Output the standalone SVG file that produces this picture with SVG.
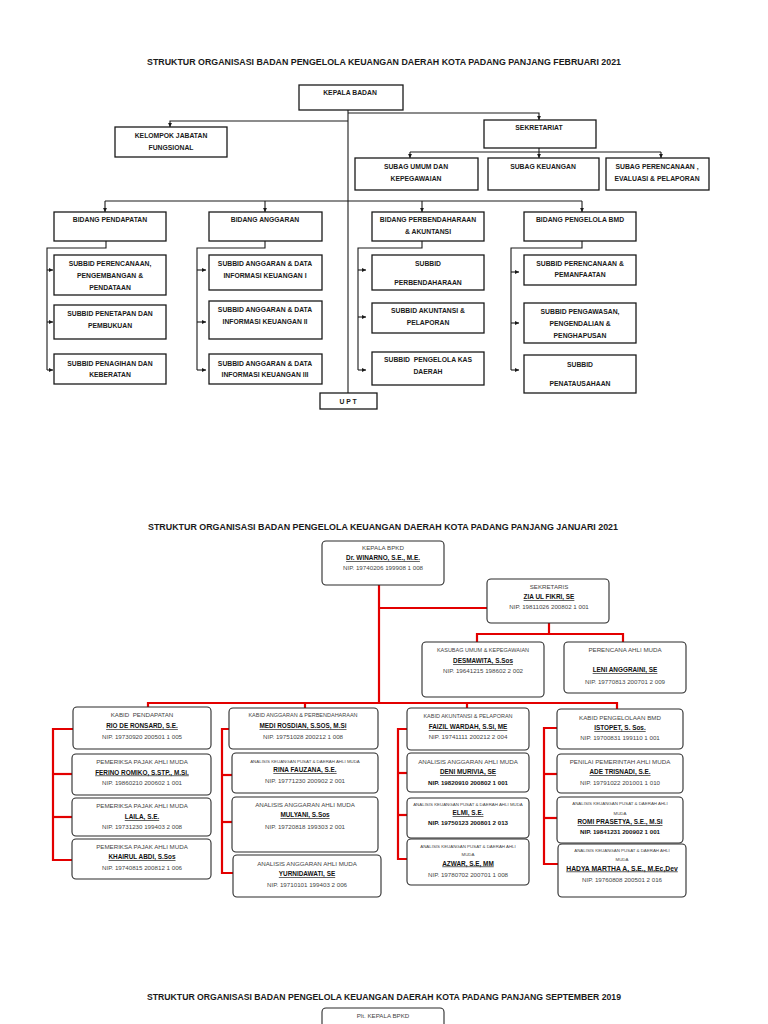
<svg xmlns="http://www.w3.org/2000/svg" width="768" height="1024" viewBox="0 0 768 1024">
<style>
.bg{fill:#fff}
.t{font-family:"Liberation Sans",Arial,sans-serif;font-weight:bold;fill:#1a1a1a;text-anchor:middle}
.title{font-size:9.2px}
.b{font-size:6.8px}
.bx{fill:#fff;stroke:#1a1a1a;stroke-width:1.3}
.ln{fill:none;stroke:#1a1a1a;stroke-width:1.1}
.rl{fill:none;stroke:#e30000;stroke-width:2.2}
.rb{fill:#fff;stroke:#2a2a2a;stroke-width:1.1}
.s{font-family:"Liberation Sans",Arial,sans-serif;fill:#444;text-anchor:middle;font-size:6.2px}
.xs{font-size:4.4px}
.sm{font-size:5.5px}
.n{font-family:"Liberation Sans",Arial,sans-serif;font-weight:bold;fill:#111;text-anchor:middle;font-size:6.4px;text-decoration:underline}
.nb{font-weight:bold;fill:#111}
</style>
<defs>
<marker id="ar" markerUnits="userSpaceOnUse" markerWidth="5" markerHeight="5" refX="4.5" refY="2.5" orient="auto">
<path d="M0,0.3 L4.5,2.5 L0,4.7 z" fill="#1a1a1a"/>
</marker>
</defs>
<rect class="bg" x="0" y="0" width="768" height="1024"/>

<text class="t title" x="384" y="65" textLength="474" lengthAdjust="spacingAndGlyphs">STRUKTUR ORGANISASI BADAN PENGELOLA KEUANGAN DAERAH KOTA PADANG PANJANG FEBRUARI 2021</text>

<g id="connectors-top">
<path class="ln" d="M348,110 V393"/>
<path class="ln" d="M348,121 H170 V127" marker-end="url(#ar)"/>
<path class="ln" d="M348,113 H539 V120" marker-end="url(#ar)"/>
<path class="ln" d="M539,148 V158" marker-end="url(#ar)"/>
<path class="ln" d="M410,152 H661"/>
<path class="ln" d="M410,152 V158" marker-end="url(#ar)"/>
<path class="ln" d="M661,152 V158" marker-end="url(#ar)"/>
<path class="ln" d="M105,201 H582"/>
<path class="ln" d="M105,201 V212" marker-end="url(#ar)"/>
<path class="ln" d="M265,201 V212" marker-end="url(#ar)"/>
<path class="ln" d="M422,201 V212" marker-end="url(#ar)"/>
<path class="ln" d="M582,201 V212" marker-end="url(#ar)"/>
<path class="ln" d="M106,241 V248 H47 V370"/>
<path class="ln" d="M47,270 H53" marker-end="url(#ar)"/>
<path class="ln" d="M47,322 H53" marker-end="url(#ar)"/>
<path class="ln" d="M47,370 H53" marker-end="url(#ar)"/>
<path class="ln" d="M265,241 V248 H197 V370"/>
<path class="ln" d="M197,270 H206" marker-end="url(#ar)"/>
<path class="ln" d="M197,322 H206" marker-end="url(#ar)"/>
<path class="ln" d="M197,370 H206" marker-end="url(#ar)"/>
<path class="ln" d="M422,241 V248 H358 V370"/>
<path class="ln" d="M358,270 H366" marker-end="url(#ar)"/>
<path class="ln" d="M358,317 H366" marker-end="url(#ar)"/>
<path class="ln" d="M358,370 H366" marker-end="url(#ar)"/>
<path class="ln" d="M582,241 V248 H511 V370"/>
<path class="ln" d="M511,272 H519" marker-end="url(#ar)"/>
<path class="ln" d="M511,323 H519" marker-end="url(#ar)"/>
<path class="ln" d="M511,370 H519" marker-end="url(#ar)"/>
</g>

<g id="kepala-badan"><rect class="bx" x="299" y="85" width="104" height="25"/><text class="t b" x="350" y="94.5">KEPALA BADAN</text></g>
<g id="kelompok"><rect class="bx" x="115" y="127" width="112" height="30"/><text class="t b" x="171" y="137.5">KELOMPOK JABATAN</text><text class="t b" x="171" y="149.5">FUNGSIONAL</text></g>
<g id="sekretariat"><rect class="bx" x="484" y="120" width="112" height="28"/><text class="t b" x="539" y="129.5">SEKRETARIAT</text></g>
<g id="subag-umum"><rect class="bx" x="355" y="158" width="123" height="32"/><text class="t b" x="416" y="169">SUBAG UMUM DAN</text><text class="t b" x="416" y="181">KEPEGAWAIAN</text></g>
<g id="subag-keuangan"><rect class="bx" x="488" y="158" width="111" height="32"/><text class="t b" x="543" y="168.5">SUBAG KEUANGAN</text></g>
<g id="subag-perencanaan"><rect class="bx" x="606" y="158" width="103" height="32"/><text class="t b" x="657" y="169">SUBAG PERENCANAAN ,</text><text class="t b" x="657" y="181">EVALUASI &amp; PELAPORAN</text></g>

<g id="bidang-pendapatan"><rect class="bx" x="54" y="212" width="112" height="29"/><text class="t b" x="110" y="222">BIDANG PENDAPATAN</text></g>
<g id="bidang-anggaran"><rect class="bx" x="209" y="212" width="113" height="29"/><text class="t b" x="265" y="222">BIDANG ANGGARAN</text></g>
<g id="bidang-perbendaharaan"><rect class="bx" x="372" y="212" width="112" height="29"/><text class="t b" x="428" y="221.5">BIDANG PERBENDAHARAAN</text><text class="t b" x="428" y="233.5">&amp; AKUNTANSI</text></g>
<g id="bidang-bmd"><rect class="bx" x="524" y="212" width="112" height="29"/><text class="t b" x="580" y="222">BIDANG PENGELOLA BMD</text></g>

<g id="subbid-perencanaan"><rect class="bx" x="54" y="255" width="112" height="40"/><text class="t b" x="110" y="265.5">SUBBID PERENCANAAN,</text><text class="t b" x="110" y="277.5">PENGEMBANGAN &amp;</text><text class="t b" x="110" y="289.5">PENDATAAN</text></g>
<g id="subbid-penetapan"><rect class="bx" x="54" y="305" width="112" height="34"/><text class="t b" x="110" y="315.5">SUBBID PENETAPAN DAN</text><text class="t b" x="110" y="327.5">PEMBUKUAN</text></g>
<g id="subbid-penagihan"><rect class="bx" x="54" y="354" width="112" height="30"/><text class="t b" x="110" y="365.5">SUBBID PENAGIHAN DAN</text><text class="t b" x="110" y="376.5">KEBERATAN</text></g>

<g id="subbid-anggaran-1"><rect class="bx" x="209" y="255" width="113" height="35"/><text class="t b" x="265" y="265.5">SUBBID ANGGARAN &amp; DATA</text><text class="t b" x="265" y="277.5">INFORMASI KEUANGAN I</text></g>
<g id="subbid-anggaran-2"><rect class="bx" x="209" y="301" width="113" height="38"/><text class="t b" x="265" y="311.5">SUBBID ANGGARAN &amp; DATA</text><text class="t b" x="265" y="323.5">INFORMASI KEUANGAN II</text></g>
<g id="subbid-anggaran-3"><rect class="bx" x="209" y="354" width="113" height="30"/><text class="t b" x="265" y="365.5">SUBBID ANGGARAN &amp; DATA</text><text class="t b" x="265" y="376.5">INFORMASI KEUANGAN III</text></g>

<g id="subbid-perbendaharaan"><rect class="bx" x="372" y="255" width="112" height="35"/><text class="t b" x="428" y="265.5">SUBBID</text><text class="t b" x="428" y="284.5">PERBENDAHARAAN</text></g>
<g id="subbid-akuntansi"><rect class="bx" x="372" y="303" width="112" height="30"/><text class="t b" x="428" y="312.5">SUBBID AKUNTANSI &amp;</text><text class="t b" x="428" y="324.5">PELAPORAN</text></g>
<g id="subbid-kas"><rect class="bx" x="372" y="352" width="112" height="33"/><text class="t b" x="428" y="361.5" xml:space="preserve">SUBBID  PENGELOLA KAS</text><text class="t b" x="428" y="373.5">DAERAH</text></g>

<g id="subbid-pemanfaatan"><rect class="bx" x="524" y="255" width="112" height="30"/><text class="t b" x="580" y="265.5">SUBBID PERENCANAAN &amp;</text><text class="t b" x="580" y="276.5">PEMANFAATAN</text></g>
<g id="subbid-pengawasan"><rect class="bx" x="524" y="303" width="112" height="40"/><text class="t b" x="580" y="313.5">SUBBID PENGAWASAN,</text><text class="t b" x="580" y="325.5">PENGENDALIAN &amp;</text><text class="t b" x="580" y="337.5">PENGHAPUSAN</text></g>
<g id="subbid-penatausahaan"><rect class="bx" x="524" y="355" width="112" height="38"/><text class="t b" x="580" y="366.5">SUBBID</text><text class="t b" x="580" y="385.5">PENATAUSAHAAN</text></g>

<g id="upt"><rect class="bx" x="320" y="393" width="57" height="16"/><text class="t b" x="348" y="403.5">U P T</text></g>

<text class="t title" x="383" y="530" textLength="470" lengthAdjust="spacingAndGlyphs">STRUKTUR ORGANISASI BADAN PENGELOLA KEUANGAN DAERAH KOTA PADANG PANJANG JANUARI 2021</text>

<g id="connectors-bottom">
<path class="rl" d="M379,585 V703"/>
<path class="rl" d="M379,608 H487"/>
<path class="rl" d="M549,623 V634"/>
<path class="rl" d="M477,642 V634 H623 V642"/>
<path class="rl" d="M148,708 V703 H617 V709"/>
<path class="rl" d="M305,703 V708"/>
<path class="rl" d="M467,703 V708"/>
<path class="rl" d="M73,729 H53 V860 H73"/>
<path class="rl" d="M53,774 H73"/>
<path class="rl" d="M53,817 H73"/>
<path class="rl" d="M229,729 H222 V873 H233"/>
<path class="rl" d="M222,775 H232"/>
<path class="rl" d="M222,822 H232"/>
<path class="rl" d="M407,729 H398 V859 H407"/>
<path class="rl" d="M398,773 H407"/>
<path class="rl" d="M398,815 H407"/>
<path class="rl" d="M557,728 H544 V864 H558"/>
<path class="rl" d="M544,774 H557"/>
<path class="rl" d="M544,818 H557"/>
</g>

<g id="kepala-bpkd"><rect class="rb" x="322" y="541" width="122" height="44" rx="4"/><text class="s" x="383" y="550">KEPALA BPKD</text><text class="n" x="383" y="560">Dr. WINARNO, S.E., M.E.</text><text class="s" x="383" y="569.5">NIP. 19740206  199908 1 008</text></g>
<g id="sekretaris"><rect class="rb" x="487" y="579" width="122" height="44" rx="4"/><text class="s" x="549" y="589">SEKRETARIS</text><text class="n" x="549" y="599">ZIA UL FIKRI, SE</text><text class="s" x="549" y="609">NIP. 19811026 200802 1 001</text></g>
<g id="kasubag"><rect class="rb" x="422" y="642" width="122" height="55" rx="4"/><text class="s sm" x="483" y="652">KASUBAG  UMUM &amp; KEPEGAWAIAN</text><text class="n" x="483" y="663">DESMAWITA, S.Sos</text><text class="s" x="483" y="673">NIP. 19641215 198602 2 002</text></g>
<g id="perencana"><rect class="rb" x="564" y="642" width="122" height="51" rx="4"/><text class="s" x="625" y="652">PERENCANA AHLI MUDA</text><text class="n" x="625" y="672">LENI ANGGRAINI, SE</text><text class="s" x="625" y="684">NIP. 19770813 200701 2 009</text></g>

<g id="kabid-pendapatan"><rect class="rb" x="73" y="707" width="138" height="42" rx="4"/><text class="s" x="142" y="717" xml:space="preserve">KABID  PENDAPATAN</text><text class="n" x="142" y="728">RIO DE RONSARD, S.E.</text><text class="s" x="142" y="738.5">NIP. 19730920 200501 1 005</text></g>
<g id="ferino"><rect class="rb" x="72" y="754" width="139" height="41" rx="4"/><text class="s" x="142" y="764">PEMERIKSA PAJAK AHLI MUDA</text><text class="n" x="142" y="774.5">FERINO ROMIKO, S.STP., M.Si.</text><text class="s" x="142" y="785">NIP. 19860210 200602 1 001</text></g>
<g id="laila"><rect class="rb" x="72" y="798" width="139" height="38" rx="4"/><text class="s" x="142" y="808">PEMERIKSA PAJAK AHLI MUDA</text><text class="n" x="142" y="819">LAILA, S.E.</text><text class="s" x="142" y="829">NIP. 19731230 199403 2 008</text></g>
<g id="khairul"><rect class="rb" x="72" y="839" width="139" height="40" rx="4"/><text class="s" x="142" y="849">PEMERIKSA PAJAK AHLI MUDA</text><text class="n" x="142" y="859">KHAIRUL ABDI, S.Sos</text><text class="s" x="142" y="870">NIP. 19740815 200812 1 006</text></g>

<g id="kabid-anggaran"><rect class="rb" x="229" y="708" width="149" height="41" rx="4"/><text class="s sm" x="303" y="717">KABID ANGGARAN &amp; PERBENDAHARAAN</text><text class="n" x="303" y="728">MEDI ROSDIAN, S.SOS, M.Si</text><text class="s" x="303" y="739">NIP. 19751028 200212 1 008</text></g>
<g id="rina"><rect class="rb" x="232" y="753" width="146" height="40" rx="4"/><text class="s xs" x="305" y="762.5">ANALISIS KEUANGAN PUSAT &amp; DAERAH AHLI MUDA</text><text class="n" x="305" y="772">RINA FAUZANA, S.E.</text><text class="s" x="305" y="783">NIP. 19771230 200902 2 001</text></g>
<g id="mulyani"><rect class="rb" x="232" y="797" width="146" height="55" rx="4"/><text class="s" x="305" y="807">ANALISIS ANGGARAN AHLI MUDA</text><text class="n" x="305" y="817">MULYANI, S.Sos</text><text class="s" x="305" y="829">NIP. 19720818 199303 2 001</text></g>
<g id="yurnidawati"><rect class="rb" x="233" y="855" width="148" height="42" rx="4"/><text class="s" x="307" y="866">ANALISIS ANGGARAN AHLI MUDA</text><text class="n" x="307" y="876">YURNIDAWATI, SE</text><text class="s" x="307" y="887">NIP. 19710101 199403 2 006</text></g>

<g id="kabid-akuntansi"><rect class="rb" x="407" y="708" width="122" height="42" rx="4"/><text class="s sm" x="468" y="718">KABID AKUNTANSI &amp; PELAPORAN</text><text class="n" x="468" y="729">FAIZIL WARDAH, S.Si, ME</text><text class="s" x="468" y="739">NIP. 19741111 200212 2 004</text></g>
<g id="deni"><rect class="rb" x="407" y="753" width="122" height="39" rx="4"/><text class="s" x="468" y="764">ANALISIS ANGGARAN AHLI MUDA</text><text class="n" x="468" y="774">DENI MURIVIA, SE</text><text class="s nb" x="468" y="785">NIP. 19820910 200802 1 001</text></g>
<g id="elmi"><rect class="rb" x="407" y="798" width="122" height="40" rx="4"/><text class="s xs" x="468" y="805.5">ANALISIS KEUANGAN PUSAT &amp; DAERAH AHLI MUDA</text><text class="n" x="468" y="815">ELMI, S.E.</text><text class="s nb" x="468" y="825">NIP. 19750123 200801 2 013</text></g>
<g id="azwar"><rect class="rb" x="407" y="839" width="122" height="46" rx="4"/><text class="s xs" x="468" y="847.5">ANALISIS KEUANGAN PUSAT &amp; DAERAH AHLI</text><text class="s xs" x="468" y="855.5">MUDA</text><text class="n" x="468" y="865.5">AZWAR, S.E, MM</text><text class="s" x="468" y="876.5">NIP. 19780702 200701 1 008</text></g>

<g id="kabid-bmd"><rect class="rb" x="557" y="709" width="126" height="40" rx="4"/><text class="s" x="620" y="720">KABID PENGELOLAAN BMD</text><text class="n" x="620" y="730">ISTOPET, S. Sos.</text><text class="s" x="620" y="740">NIP. 19700831 199110 1 001</text></g>
<g id="ade"><rect class="rb" x="557" y="754" width="126" height="39" rx="4"/><text class="s" x="620" y="764">PENILAI PEMERINTAH AHLI MUDA</text><text class="n" x="620" y="774">ADE TRISNADI, S.E.</text><text class="s" x="620" y="785">NIP. 19791022 201001 1 010</text></g>
<g id="romi"><rect class="rb" x="557" y="797" width="126" height="46" rx="4"/><text class="s xs" x="620" y="805">ANALISIS KEUANGAN PUSAT &amp; DAERAH AHLI</text><text class="s xs" x="620" y="814.5">MUDA</text><text class="n" x="620" y="824">ROMI PRASETYA, S.E., M.Si</text><text class="s nb" x="620" y="833.5">NIP. 19841231 200902 1 001</text></g>
<g id="hadya"><rect class="rb" x="558" y="844" width="128" height="53" rx="4"/><text class="s xs" x="622" y="852">ANALISIS KEUANGAN PUSAT &amp; DAERAH AHLI</text><text class="s xs" x="622" y="861">MUDA</text><text class="n" x="622" y="870.5" style="font-size:6.8px">HADYA MARTHA A, S.E., M.Ec,Dev</text><text class="s" x="622" y="882">NIP. 19760808 200501 2 016</text></g>

<text class="t title" x="384" y="1000" textLength="474" lengthAdjust="spacingAndGlyphs">STRUKTUR ORGANISASI BADAN PENGELOLA KEUANGAN DAERAH KOTA PADANG PANJANG SEPTEMBER 2019</text>
<g id="plt-kepala"><rect class="rb" x="322" y="1008" width="122" height="30" rx="4"/><text class="s" x="383" y="1018">Plt. KEPALA BPKD</text></g>
</svg>
